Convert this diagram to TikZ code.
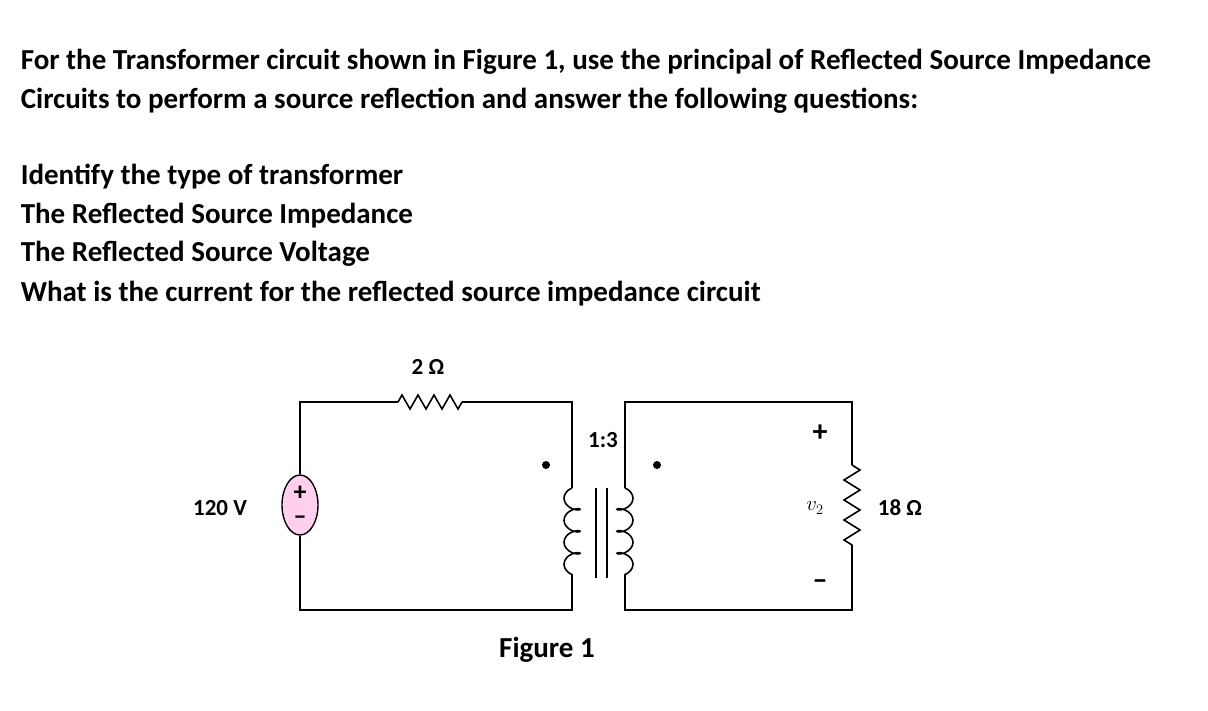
\documentclass[tikz,border=0pt]{standalone}
\usepackage{fontspec}
\setmainfont{Carlito}
\usetikzlibrary{decorations.pathmorphing,shapes.geometric}
\begin{document}
\begin{tikzpicture}[x=1pt,y=-1pt,line width=1.6pt,
 txt/.style={anchor=west,inner sep=0,font=\fontsize{29}{33}\selectfont\bfseries},
 lbl/.style={inner sep=0,font=\fontsize{23}{27}\selectfont\bfseries},
 res/.style={decorate,decoration={zigzag,segment length=16pt,amplitude=7pt}},
 coilL/.style={decorate,decoration={coil,aspect=0.6,segment length=22pt,amplitude=8pt,mirror}},
 coilR/.style={decorate,decoration={coil,aspect=0.6,segment length=22pt,amplitude=8pt}}]
\useasboundingbox (0,0) rectangle (1208,710);
\node[txt] (t1) at (20,62) {For the Transformer circuit shown in Figure 1, use the principal of Reflected Source Impedance};
\node[txt] (t2) at (20,101) {Circuits to perform a source reflection and answer the following questions:};
\node[txt] (t3) at (20,177) {Identify the type of transformer};
\node[txt] (t4) at (20,216) {The Reflected Source Impedance};
\node[txt] (t5) at (20,254) {The Reflected Source Voltage};
\node[txt] (t6) at (20,294) {What is the current for the reflected source impedance circuit};
\coordinate (a) at (300,402); \coordinate (b) at (572,402);
\coordinate (c) at (300,610); \coordinate (d) at (572,610);
\coordinate (e) at (625,402); \coordinate (f) at (852,402);
\coordinate (g) at (625,610); \coordinate (h) at (852,610);
\coordinate (r1a) at (398,402); \coordinate (r1b) at (462,402);
\coordinate (r2a) at (852,465); \coordinate (r2b) at (852,550);
\coordinate (p1) at (572,488); \coordinate (p2) at (572,582);
\coordinate (s1) at (625,488); \coordinate (s2) at (625,582);
\node[ellipse,draw,fill=pink!70!magenta!40,minimum width=36,minimum height=60,inner sep=0,line width=1.4pt] (src) at (300,505) {};
\node[font=\fontsize{26}{26}\selectfont\bfseries,inner sep=0] (pl) at (300,493) {+};
\node[font=\fontsize{26}{26}\selectfont\bfseries,inner sep=0] (mi) at (300,520) {--};
\draw (src.north) -- (a) -- (r1a);
\draw[res] (r1a) -- (r1b);
\draw (r1b) -- (b) -- (p1);
\draw (src.south) -- (c) -- (d) -- (p2);
\draw[coilL] (p1) -- (p2);
\draw[coilR] (s1) -- (s2);
\draw[line width=1.2pt] (596,488) -- (596,578) (607,488) -- (607,578);
\draw (s1) -- (e) -- (f) -- (r2a);
\draw[res,decoration={amplitude=8pt,segment length=20pt}] (r2a) -- (r2b);
\draw (r2b) -- (h) -- (g) -- (s2);
\fill (546,465) circle (4) (657,465) circle (4);
\node[lbl] (n) at (603,440) {1:3};
\node[lbl] (rl) at (428,367) {2 Ω};
\node[lbl] (vs) at (220,508) {120 V};
\node[lbl] (rl2) at (900,508) {18 Ω};
\node[font=\fontsize{30}{30}\selectfont\bfseries,inner sep=0] (vp) at (820,433) {+};
\node[font=\fontsize{30}{30}\selectfont\bfseries,inner sep=0] (vm) at (820,585) {--};
\node[font=\fontsize{22}{22}\selectfont,inner sep=0] (v2) at (815,508) {$v_2$};
\node[font=\fontsize{29}{33}\selectfont\bfseries,inner sep=0] (fig) at (547,650) {Figure 1};
\end{tikzpicture}
\end{document}
